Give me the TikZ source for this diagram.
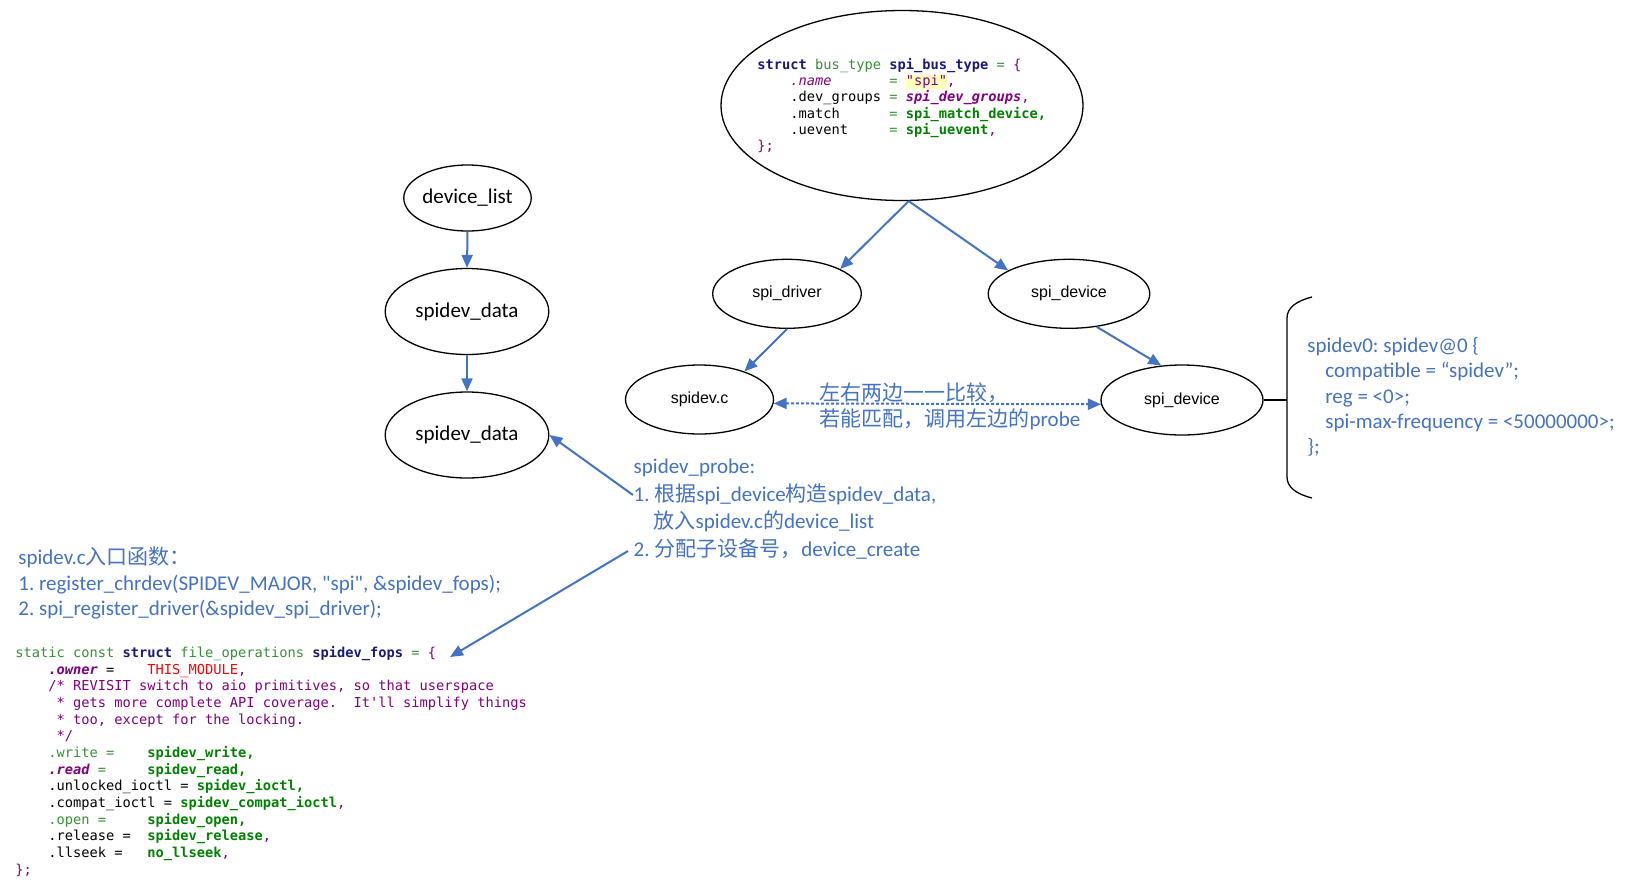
\documentclass[tikz,border=0pt]{standalone}
\usepackage{fontspec}
\setmainfont{Carlito}
\setsansfont{Liberation Sans}
\setmonofont{DejaVu Sans Mono}
\newfontfamily\cjk{Noto Sans CJK SC}
\usetikzlibrary{shapes.geometric,arrows.meta}
\definecolor{cblue}{RGB}{68,114,196}
\definecolor{cnavy}{RGB}{25,25,120}
\definecolor{cgreen}{RGB}{55,145,55}
\definecolor{cfn}{RGB}{0,130,0}
\definecolor{cpurple}{RGB}{128,0,128}
\definecolor{cred}{RGB}{255,0,0}
\definecolor{chl}{RGB}{255,255,185}
\newcommand\Nv[1]{\textcolor{cnavy}{\bfseries #1}}
\newcommand\Gt[1]{\textcolor{cgreen}{#1}}
\newcommand\Gf[1]{\textcolor{cfn}{\bfseries #1}}
\newcommand\Pu[1]{\textcolor{cpurple}{#1}}
\newcommand\Pit[1]{\textcolor{cpurple}{\itshape #1}}
\newcommand\Pbi[1]{\textcolor{cpurple}{\bfseries\itshape #1}}
\newcommand\Rd[1]{\textcolor{cred}{#1}}
\newcommand\sk[1]{\hspace*{#1\fontcharwd\font`x}}
\newcommand\dq{\XeTeXglyph\XeTeXcharglyph"22\relax}
\frenchspacing
\tikzset{
  ell/.style={draw, ellipse, line width=0.65pt, inner sep=0pt},
  biglab/.style={font=\fontsize{10.5pt}{12pt}\selectfont},
  smalllab/.style={font=\sffamily\fontsize{8pt}{10pt}\selectfont},
  arr/.style={draw=cblue, line width=1pt, -{Triangle[length=6.5pt,width=5.5pt]}},
  darr/.style={draw=cblue, line width=1pt, dash pattern=on 1.5pt off 1pt, {Triangle[length=6.5pt,width=5.5pt]}-{Triangle[length=6.5pt,width=5.5pt]}},
  bline/.style={draw=black, line width=0.65pt},
  code/.style={anchor=base west, inner sep=0pt, font=\ttfamily\fontsize{6.85pt}{8pt}\selectfont},
  note/.style={anchor=base west, inner sep=0pt, text=cblue, font=\fontsize{10.5pt}{12pt}\selectfont},
}
\begin{document}
\begin{tikzpicture}[x=0.5pt,y=-0.5pt]
\fill[white] (0,0) rectangle (1629,885);
\path[use as bounding box] (0,0) rectangle (1629,885);

% ellipses
\node[ell, minimum width=181pt, minimum height=95pt] (big) at (902,105.5) {};
\node[ell, biglab, minimum width=63pt, minimum height=33pt] (dl) at (467.5,198) {device\_list};
\node[ell, biglab, minimum width=81.8pt, minimum height=43pt] (sd1) at (467,311.5) {spidev\_data};
\node[ell, biglab, minimum width=81.8pt, minimum height=43pt] (sd2) at (467,435) {spidev\_data};
\node[ell, smalllab, minimum width=74.3pt, minimum height=34.5pt] (drv) at (787,293.8) {spi\_driver};
\node[ell, smalllab, minimum width=80.8pt, minimum height=34.5pt] (dev1) at (1069,293.8) {spi\_device};
\node[ell, smalllab, minimum width=74pt, minimum height=34.5pt] (spc) at (699.5,399.5) {spidev.c};
\node[ell, smalllab, minimum width=81pt, minimum height=35pt] (dev2) at (1182,400) {spi\_device};

% code inside big ellipse
\node[code] (b0) at (757,69.3) {\Nv{struct} \Gt{bus\_type} \Nv{spi\_bus\_type} \Gt{=} \Pu{\{}};
\node[code] (b1) at (790,85.6) {\Pit{.name}\sk{7}\Gt{=} {\setlength\fboxsep{0pt}\colorbox{chl}{\Pu{"spi"}\vphantom{Ag}}}\Pu{,}};
\node[code] (b2) at (790,101.9) {.dev\_groups \Gt{=} \Pbi{spi\_dev\_groups}\Pu{,}};
\node[code] (b3) at (790,118.2) {.match\sk{6}\Gt{=} \Gf{spi\_match\_device,}};
\node[code] (b4) at (790,134.5) {.uevent\sk{5}\Gt{=} \Gf{spi\_uevent}\Pu{,}};
\node[code] (b5) at (757,150.8) {\Pu{\};}};

% bottom code
\node[code] (f0) at (15,657.5) {\Gt{static const} \Nv{struct} \Gt{file\_operations} \Nv{spidev\_fops} \Gt{=} \Pu{\{}};
\node[code] (f1) at (48,674.2) {\Pbi{.owner} =\sk{4}\Rd{THIS\_MODULE}\Pu{,}};
\node[code] (f2) at (48,690.8) {\Pu{/* REVISIT switch to aio primitives, so that userspace}};
\node[code] (f3) at (56.25,707.5) {\Pu{* gets more complete API coverage.\sk{2}It'll simplify things}};
\node[code] (f4) at (56.25,724.2) {\Pu{* too, except for the locking.}};
\node[code] (f5) at (56.25,740.8) {\Pu{*/}};
\node[code] (f6) at (48,757.5) {\Gt{.write =}\sk{4}\Gf{spidev\_write,}};
\node[code] (f7) at (48,774.2) {\Pbi{.read} \Gt{=}\sk{5}\Gf{spidev\_read,}};
\node[code] (f8) at (48,790.8) {.unlocked\_ioctl = \Gf{spidev\_ioctl,}};
\node[code] (f9) at (48,807.5) {.compat\_ioctl = \Gf{spidev\_compat\_ioctl}\Pu{,}};
\node[code] (f10) at (48,824.2) {\Gt{.open =}\sk{5}\Gf{spidev\_open,}};
\node[code] (f11) at (48,840.8) {.release =\sk{2}\Gf{spidev\_release}\Pu{,}};
\node[code] (f12) at (48,857.5) {.llseek =\sk{3}\Gf{no\_llseek}\Pu{,}};
\node[code] (f13) at (15,874.2) {\Pu{\};}};

% blue notes
\node[note] (m1) at (819.3,400) {{\cjk 左右两边一一比较，}};
\node[note] (m2) at (819.3,426.5) {{\cjk 若能匹配，调用左边的}probe};

\node[note] (p0) at (633.3,473.5) {spidev\_probe:};
\node[note] (pl1) at (633.3,501.5) {1. {\cjk 根据}spi\_device{\cjk 构造}spidev\_data,};
\node[note] (pl2) at (653.3,528.5) {{\cjk 放入}spidev.c{\cjk 的}device\_list};
\node[note] (pl3) at (633.3,556) {2. {\cjk 分配子设备号，}device\_create};

\node[note] (e0) at (18,564.3) {spidev.c{\cjk 入口函数：}};
\node[note] (e1) at (18,590) {1. register\_chrdev(SPIDEV\_MAJOR, \dq spi\dq, \&spidev\_fops);};
\node[note] (e2) at (18,615) {2. spi\_register\_driver(\&spidev\_spi\_driver);};

\node[note] (r0) at (1307,352.5) {spidev0: spidev@0 \{};
\node[note] (r1) at (1325,377.5) {compatible = “spidev”;};
\node[note] (r2) at (1325,403) {reg = <0>;};
\node[note] (r3) at (1325,428) {spi-max-frequency = <50000000>;};
\node[note] (r4) at (1307,453) {\};};

% coordinates for free ends
\coordinate (q1) at (633,495);
\coordinate (q2) at (628,551);
\coordinate (fopstip) at (450,657);
\coordinate (brk) at (1287,400);

% arrows
\draw[arr] (dl.south) -- (sd1.north);
\draw[arr] (sd1.south) -- (sd2.north);
\draw[arr] (big.-86) -- (drv.25);
\draw[arr] (big.-86) -- (dev1.159);
\draw[arr] (drv.south) -- (spc.32);
\draw[arr] (dev1.-50) -- (dev2.121);
\draw[darr] (spc.-3) -- (dev2.183);
\draw[arr] (q1) -- (sd2.east);
\draw[arr] (q2) -- (fopstip);

% bracket
\draw[bline] (dev2.east) -- (brk);
\draw[bline] (1312,297) .. controls (1296,301) and (1287,308) .. (1287,318) -- (1287,477) .. controls (1287,487) and (1296,494) .. (1312,498);
\end{tikzpicture}
\end{document}
